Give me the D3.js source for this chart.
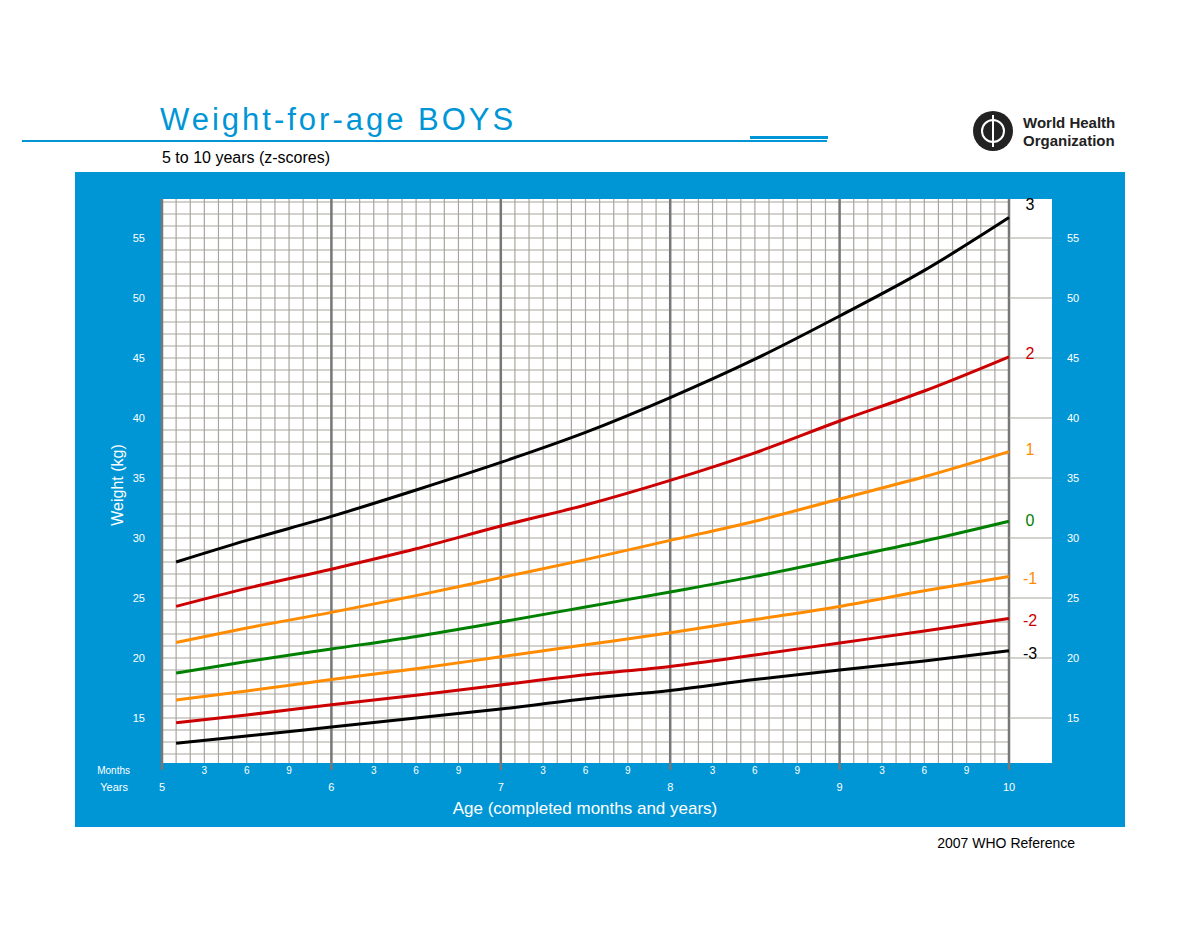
<!DOCTYPE html>
<html><head><meta charset="utf-8">
<script src="https://cdn.jsdelivr.net/npm/d3@7"></script>
<style>body{margin:0;background:#fff}svg{font-family:"Liberation Sans",Arial,sans-serif}</style>
</head><body><svg id="chart" width="1200" height="927"></svg>
<script>
// ages in months, values in kg
const ages = [61, 66, 72, 78, 84, 90, 96, 102, 108, 114, 120];
const sd3 = [28.0, 29.8, 31.8, 34.0, 36.3, 38.8, 41.7, 44.9, 48.5, 52.3, 56.7];
const sd2 = [24.3, 25.8, 27.4, 29.1, 31.0, 32.75, 34.8, 37.1, 39.75, 42.25, 45.1];
const sd1 = [21.3, 22.5, 23.8, 25.2, 26.7, 28.2, 29.8, 31.4, 33.25, 35.1, 37.2];
const sd0 = [18.75, 19.7, 20.75, 21.8, 23.0, 24.25, 25.5, 26.8, 28.25, 29.75, 31.4];
const sdm1 = [16.5, 17.25, 18.2, 19.1, 20.1, 21.1, 22.1, 23.2, 24.3, 25.6, 26.8];
const sdm2 = [14.6, 15.25, 16.1, 16.9, 17.75, 18.6, 19.3, 20.25, 21.25, 22.25, 23.3];
const sdm3 = [12.9, 13.5, 14.25, 15.0, 15.75, 16.6, 17.3, 18.2, 19.0, 19.75, 20.6];
const seriesNames = ['3', '2', '1', '0', '-1', '-2', '-3'];
const seriesColors = ['#000000', '#cc0000', '#ff8c00', '#008000', '#ff8c00', '#cc0000', '#000000'];
const yTicks = [15, 20, 25, 30, 35, 40, 45, 50, 55];
const years = [5, 6, 7, 8, 9, 10];
const monthTicks = [3, 6, 9];

const blue = '#0096d6';
const svg = d3.select('#chart');
const x = d3.scaleLinear().domain([60, 120]).range([162, 1009]);
const y = d3.scaleLinear().domain([11.25, 58.25]).range([763, 199]);

// title block
svg.append('text').attr('x', 160).attr('y', 130).attr('fill', blue)
    .attr('font-size', 31).attr('letter-spacing', 3).text('Weight-for-age  BOYS');
svg.append('rect').attr('x', 22).attr('y', 140).attr('width', 805).attr('height', 2).attr('fill', blue);
svg.append('rect').attr('x', 750).attr('y', 136).attr('width', 78).attr('height', 3).attr('fill', blue);
svg.append('text').attr('x', 162).attr('y', 163).attr('font-size', 16).text('5 to 10 years (z-scores)');

// WHO logo
const logo = svg.append('g').attr('transform', 'translate(993,131)');
logo.append('circle').attr('r', 20).attr('fill', '#222');
logo.append('circle').attr('r', 11).attr('fill', 'none').attr('stroke', '#fff').attr('stroke-width', 2);
logo.append('line').attr('x1', 0).attr('x2', 0).attr('y1', -16).attr('y2', 16).attr('stroke', '#fff').attr('stroke-width', 2);
logo.append('text').attr('x', 30).attr('y', -3).attr('font-size', 15).attr('font-weight', 'bold').attr('fill', '#222').text('World Health');
logo.append('text').attr('x', 30).attr('y', 15).attr('font-size', 15).attr('font-weight', 'bold').attr('fill', '#222').text('Organization');

// panel
svg.append('rect').attr('x', 75).attr('y', 172).attr('width', 1050).attr('height', 655).attr('fill', blue);
svg.append('rect').attr('x', 162).attr('y', 199).attr('width', 890).attr('height', 564).attr('fill', '#fff');
svg.append('rect').attr('x', 1052).attr('y', 199).attr('width', 10).attr('height', 564).attr('fill', blue);

// grid
const grid = svg.append('g');
d3.range(12, 59).forEach(function(k) {
  grid.append('line').attr('x1', 162).attr('x2', 1009).attr('y1', y(k)).attr('y2', y(k))
      .attr('stroke', '#a8a59d').attr('stroke-width', 1.2);
});
d3.range(60, 121).forEach(function(m) {
  grid.append('line').attr('x1', x(m)).attr('x2', x(m)).attr('y1', 199).attr('y2', m % 12 == 0 ? 770 : 763)
      .attr('stroke', m % 12 == 0 ? '#777' : '#a8a59d').attr('stroke-width', m % 12 == 0 ? 2.5 : 1.2);
});
yTicks.forEach(function(k) {
  grid.append('line').attr('x1', 1009).attr('x2', 1052).attr('y1', y(k)).attr('y2', y(k))
      .attr('stroke', '#a8a59d').attr('stroke-width', 1.2);
});

// y axes
const axL = svg.append('g').attr('transform', 'translate(148,0)')
    .call(d3.axisLeft(y).tickValues(yTicks).tickSize(0));
const axR = svg.append('g').attr('transform', 'translate(1064,0)')
    .call(d3.axisRight(y).tickValues(yTicks).tickSize(0));
[axL, axR].forEach(function(a) {
  a.select('.domain').remove();
  a.selectAll('text').attr('fill', '#fff').attr('font-size', 11);
});

// x axis labels
const months = [];
years.slice(0, -1).forEach(function(yr) {
  monthTicks.forEach(function(mo) { months.push({m: yr * 12 + mo, label: mo}); });
});
svg.selectAll('.mo').data(months).enter().append('text')
    .attr('x', d => x(d.m)).attr('y', 774).attr('text-anchor', 'middle')
    .attr('fill', '#fff').attr('font-size', 10).text(d => d.label);
svg.selectAll('.yr').data(years).enter().append('text')
    .attr('x', d => x(d * 12)).attr('y', 791).attr('text-anchor', 'middle')
    .attr('fill', '#fff').attr('font-size', 11).text(d => d);
svg.append('text').attr('x', 130).attr('y', 774).attr('text-anchor', 'end').attr('fill', '#fff').attr('font-size', 10).text('Months');
svg.append('text').attr('x', 128).attr('y', 791).attr('text-anchor', 'end').attr('fill', '#fff').attr('font-size', 11).text('Years');
svg.append('text').attr('x', 585).attr('y', 814).attr('text-anchor', 'middle').attr('fill', '#fff').attr('font-size', 17).text('Age (completed months and years)');
svg.append('text').attr('transform', 'translate(123,485) rotate(-90)').attr('text-anchor', 'middle')
    .attr('fill', '#fff').attr('font-size', 16).text('Weight (kg)');

// curves
const allSeries = [sd3, sd2, sd1, sd0, sdm1, sdm2, sdm3];
const line = d3.line().x((d, i) => x(ages[i])).y(d => y(d)).curve(d3.curveMonotoneX);
allSeries.forEach(function(s, i) {
  svg.append('path').attr('d', line(s)).attr('fill', 'none')
      .attr('stroke', seriesColors[i]).attr('stroke-width', 3);
});
const labelY = [57.8, 45.4, 37.4, 31.5, 26.7, 23.2, 20.4];
seriesNames.forEach(function(n, i) {
  svg.append('text').attr('x', 1030).attr('y', y(labelY[i]) + 6).attr('text-anchor', 'middle')
      .attr('fill', seriesColors[i]).attr('font-size', 16).text(n);
});

svg.append('text').attr('x', 1075).attr('y', 848).attr('text-anchor', 'end').attr('font-size', 14).text('2007 WHO Reference');
</script></body></html>
